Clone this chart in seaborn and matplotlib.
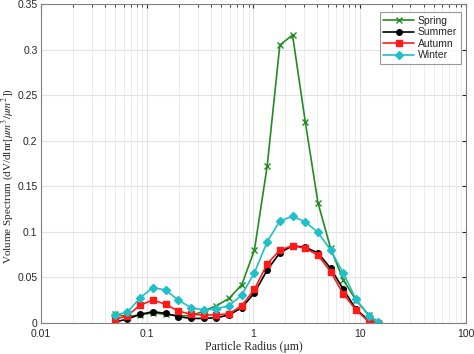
import seaborn as sns
import matplotlib.pyplot as plt
import matplotlib.ticker as mticker
import pandas as pd

# AERONET-style radius bins (um)
radius = [0.050, 0.065, 0.086, 0.113, 0.149, 0.196, 0.258, 0.340, 0.448, 0.589, 0.776,
          1.021, 1.345, 1.771, 2.332, 3.071, 4.044, 5.325, 7.013, 9.236, 12.162, 15.0]

spring = [0.0095, 0.007, 0.009, 0.011, 0.0095, 0.008, 0.008, 0.013, 0.019, 0.027, 0.042,
          0.080, 0.172, 0.305, 0.316, 0.221, 0.132, 0.082, 0.047, 0.025, 0.0088, 0.0005]
summer = [0.001, 0.0044, 0.0095, 0.0124, 0.0106, 0.007, 0.005, 0.005, 0.0058, 0.0088, 0.0168,
          0.033, 0.058, 0.077, 0.0848, 0.083, 0.077, 0.060, 0.037, 0.015, 0.003, 0.0003]
autumn = [0.004, 0.008, 0.0197, 0.0252, 0.0205, 0.0132, 0.0095, 0.0088, 0.0088, 0.0102, 0.019,
          0.037, 0.0647, 0.080, 0.0848, 0.082, 0.0746, 0.0563, 0.0318, 0.0143, 0.0015, 0.0002]
winter = [0.009, 0.0117, 0.0278, 0.0388, 0.0362, 0.0252, 0.0168, 0.0143, 0.0154, 0.019, 0.0307,
          0.0552, 0.089, 0.112, 0.117, 0.111, 0.0995, 0.080, 0.0545, 0.026, 0.008, 0.0008]

seasons = ['Spring', 'Summer', 'Autumn', 'Winter']

df = pd.DataFrame({
    'radius': radius * 4,
    'value': spring + summer + autumn + winter,
    'season': [s for s in seasons for _ in radius],
})

palette = {'Spring': '#228b22', 'Summer': '#000000', 'Autumn': '#ff1a1a', 'Winter': '#1fc0c8'}
markers = {'Spring': 'x', 'Summer': 'o', 'Autumn': 's', 'Winter': 'D'}

sns.set_style('white')
plt.rcParams['font.family'] = ['Liberation Sans', 'DejaVu Sans']
plt.rcParams['mathtext.fontset'] = 'stix'

fig = plt.figure(figsize=(4.74, 3.54), dpi=100)
ax = fig.add_axes([0.0865, 0.0876, 0.8965, 0.901])

for s in seasons:
    sub = df[df['season'] == s]
    sns.lineplot(data=sub, x='radius', y='value', color=palette[s], marker=markers[s],
                 label=s, linewidth=1.2, markersize=4 if s != 'Spring' else 4.5,
                 markeredgewidth=1.0, markeredgecolor=palette[s], ax=ax)

ax.set_xscale('log')
ax.set_xlim(0.01, 100)
ax.set_ylim(0, 0.35)
ax.yaxis.set_major_locator(mticker.MultipleLocator(0.05))
ax.yaxis.set_major_formatter(mticker.FormatStrFormatter('%g'))
ax.xaxis.set_major_formatter(mticker.FuncFormatter(lambda v, p: '%g' % v))
ax.xaxis.set_minor_formatter(mticker.NullFormatter())

ax.grid(True, which='major', axis='both', color='#e3e3e3', linewidth=0.8)
ax.grid(True, which='minor', axis='x', color='#ececec', linewidth=0.7)
ax.set_axisbelow(True)

ax.tick_params(which='both', direction='in', top=True, right=True, labelsize=7.5,
               colors='#262626', length=3, pad=2.5)
ax.tick_params(axis='x', which='both', pad=4.5)
ax.tick_params(which='minor', length=2)
for sp in ax.spines.values():
    sp.set_color('#808080')
    sp.set_linewidth(0.8)

ax.set_xlabel('Particle Radius (μm)', family='Liberation Serif', fontsize=8.5, labelpad=1)
ax.set_ylabel(r'Volume Spectrum (dV/dlnr[$\mu m^3/\mu m^2$])', family='Liberation Serif',
              fontsize=8)
ax.yaxis.set_label_coords(-0.058, 0.46)

leg = ax.legend(loc='upper right', fontsize=7.5, frameon=True, fancybox=False,
                edgecolor='#808080', borderpad=0.35, labelspacing=0.15, handlelength=2.9,
                handletextpad=0.4, borderaxespad=0.3, bbox_to_anchor=(0.995, 0.985))
leg.get_frame().set_linewidth(0.8)

fig.savefig('out.png', dpi=100)
